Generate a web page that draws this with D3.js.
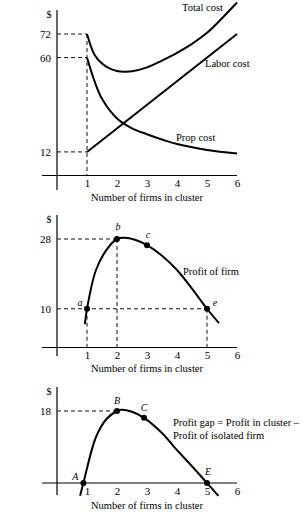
<!DOCTYPE html>
<html>
<head>
<meta charset="utf-8">
<script src="https://cdn.jsdelivr.net/npm/d3@7"></script>
<style>
  body { margin: 0; background: #fff; }
  svg text { font-family: "Liberation Serif", "Times New Roman", serif; fill: #000; }
</style>
</head>
<body>
<div id="chart"></div>
<script>
// x axis ticks shared by all three panels
const firmTicks = [1, 2, 3, 4, 5, 6];

// panel 1: costs
const costTicks = [72, 60, 12];
const laborN = [1, 6];
const laborCost = [12, 72];
const propN = [1, 1.25, 1.5, 2, 2.5, 3, 3.5, 4, 5, 6];
const propCost = [60, 48, 39, 29, 24, 21, 18.3, 16, 13, 11.2];
const totalN = [1, 1.25, 1.5, 1.75, 2, 2.25, 2.5, 3, 3.5, 4, 4.5, 5, 5.5, 6];
const totalCost = [72, 61.5, 57, 54.5, 53.2, 52.8, 53, 55, 58.5, 62.4, 67, 72.6, 80, 88];

// panel 2: profit of firm
const profitTicks = [28, 10];
const profitN = [0.93, 1, 1.3, 1.65, 2, 2.25, 2.6, 3, 3.5, 4, 4.5, 5, 5.4];
const profit = [6, 10, 20, 25.2, 28, 28.3, 27.8, 26.4, 23.7, 20, 15.2, 10, 6.3];
const profitDots = [["a", 1, 10], ["b", 2, 28], ["c", 3, 26.4], ["e", 5, 10]];

// panel 3: profit gap
const gapTicks = [18];
const gapN = [0.77, 0.88, 1.3, 1.65, 2, 2.15, 2.5, 2.9, 3.5, 4, 4.5, 5, 5.38];
const gap = [-3.2, 0, 11.5, 16, 18, 18.3, 17.8, 16.3, 12.5, 8.2, 4.2, 0, -3.2];
const gapDots = [["A", 0.88, 0], ["B", 2, 18], ["C", 2.9, 16.3], ["E", 5, 0]];

const width = 303, height = 519;

const svg = d3
  .select("#chart")
  .append("svg")
  .attr("width", width)
  .attr("height", height);

svg.append("rect").attr("width", width).attr("height", height).attr("fill", "#fff");

const x = d3.scaleLinear().domain([0, 6]).range([57, 237]);

const line = (xs, ys, y) =>
  d3
    .line()
    .x((d, i) => x(xs[i]))
    .y((d, i) => y(ys[i]))
    .curve(d3.curveCatmullRom)(ys);

const dashed = (g, x1, y1, x2, y2) =>
  g
    .append("line")
    .attr("x1", x1)
    .attr("y1", y1)
    .attr("x2", x2)
    .attr("y2", y2)
    .attr("stroke", "#111")
    .attr("stroke-width", 1)
    .attr("stroke-dasharray", "4,3");

// draws the frame of one panel: axes, tick labels, $ sign, title
function frame(y, ticks, top, bottom, titleY) {
  const g = svg.append("g");
  const y0 = y(0);

  g.append("line")
    .attr("x1", x(-0.5))
    .attr("x2", x(6))
    .attr("y1", y0)
    .attr("y2", y0)
    .attr("stroke", "#000")
    .attr("stroke-width", 1.2);

  g.append("line")
    .attr("x1", x(0))
    .attr("x2", x(0))
    .attr("y1", top)
    .attr("y2", bottom)
    .attr("stroke", "#000")
    .attr("stroke-width", 1.2);

  const xa = g
    .append("g")
    .attr("transform", "translate(0," + y0 + ")")
    .call(d3.axisBottom(x).tickValues(firmTicks).tickSize(0).tickPadding(4).tickFormat(d3.format("d")));
  xa.select(".domain").remove();
  xa.selectAll("text").attr("font-size", 11).style("font-family", null);

  const ya = g
    .append("g")
    .attr("transform", "translate(" + x(0) + ",0)")
    .call(d3.axisLeft(y).tickValues(ticks).tickSize(0).tickPadding(6));
  ya.select(".domain").remove();
  ya.selectAll("text").attr("font-size", 11).style("font-family", null);

  g.append("text")
    .attr("x", x(0) - 8)
    .attr("y", top + 8)
    .attr("text-anchor", "middle")
    .attr("font-size", 10)
    .text("$");

  g.append("text")
    .attr("x", x(3))
    .attr("y", titleY)
    .attr("text-anchor", "middle")
    .attr("font-size", 10.5)
    .text("Number of firms in cluster");

  return g;
}

// ---------- panel 1 ----------
const y1 = d3.scaleLinear().domain([0, 72]).range([175.5, 34]);
const g1 = frame(y1, costTicks, 10, 190, 201);

costTicks.forEach((v) => dashed(g1, x(0), y1(v), x(1), y1(v)));
dashed(g1, x(1), y1(72), x(1), y1(0));

[
  [totalN, totalCost],
  [laborN, laborCost],
  [propN, propCost],
].forEach(([xs, ys]) => {
  g1.append("path")
    .attr("d", line(xs, ys, y1))
    .attr("fill", "none")
    .attr("stroke", "#000")
    .attr("stroke-width", 2);
});

[
  ["Total cost", 182, 11],
  ["Labor cost", 205, 67],
  ["Prop cost", 176, 141],
].forEach(([t, tx, ty]) => {
  g1.append("text").attr("x", tx).attr("y", ty).attr("font-size", 10.5).text(t);
});

// ---------- panel 2 ----------
const y2 = d3.scaleLinear().domain([0, 28]).range([347.5, 239]);
const g2 = frame(y2, profitTicks, 215, 356, 372);

dashed(g2, x(0), y2(28), x(2), y2(28));
dashed(g2, x(2), y2(28), x(2), y2(0));
dashed(g2, x(0), y2(10), x(5), y2(10));
dashed(g2, x(1), y2(10), x(1), y2(0));
dashed(g2, x(5), y2(10), x(5), y2(0));

g2.append("path")
  .attr("d", line(profitN, profit, y2))
  .attr("fill", "none")
  .attr("stroke", "#000")
  .attr("stroke-width", 2);

profitDots.forEach(([lab, n, v]) => {
  g2.append("circle").attr("cx", x(n)).attr("cy", y2(v)).attr("r", 3).attr("fill", "#000");
});

[
  ["a", -7, -3],
  ["b", 1, -9],
  ["c", 1, -7],
  ["e", 8, -3],
].forEach(([lab, dx, dy], i) => {
  const d = profitDots[i];
  g2.append("text")
    .attr("x", x(d[1]) + dx)
    .attr("y", y2(d[2]) + dy)
    .attr("text-anchor", "middle")
    .attr("font-size", 10)
    .attr("font-style", "italic")
    .text(lab);
});

g2.append("text").attr("x", 183).attr("y", 275).attr("font-size", 10.5).text("Profit of firm");

// ---------- panel 3 ----------
const y3 = d3.scaleLinear().domain([0, 18]).range([483, 411]);
const g3 = frame(y3, gapTicks, 387, 495, 509);

dashed(g3, x(0), y3(18), x(2), y3(18));

g3.append("path")
  .attr("d", line(gapN, gap, y3))
  .attr("fill", "none")
  .attr("stroke", "#000")
  .attr("stroke-width", 2);

gapDots.forEach(([lab, n, v]) => {
  g3.append("circle").attr("cx", x(n)).attr("cy", y3(v)).attr("r", 3).attr("fill", "#000");
});

[
  [-8, -3],
  [0, -7],
  [0, -7],
  [1, -8],
].forEach(([dx, dy], i) => {
  const d = gapDots[i];
  g3.append("text")
    .attr("x", x(d[1]) + dx)
    .attr("y", y3(d[2]) + dy)
    .attr("text-anchor", "middle")
    .attr("font-size", 10)
    .attr("font-style", "italic")
    .text(d[0]);
});

g3.append("text").attr("x", 173).attr("y", 426).attr("font-size", 10.5).text("Profit gap = Profit in cluster \u2013");
g3.append("text").attr("x", 173).attr("y", 439).attr("font-size", 10.5).text("Profit of isolated firm");
</script>
</body>
</html>
